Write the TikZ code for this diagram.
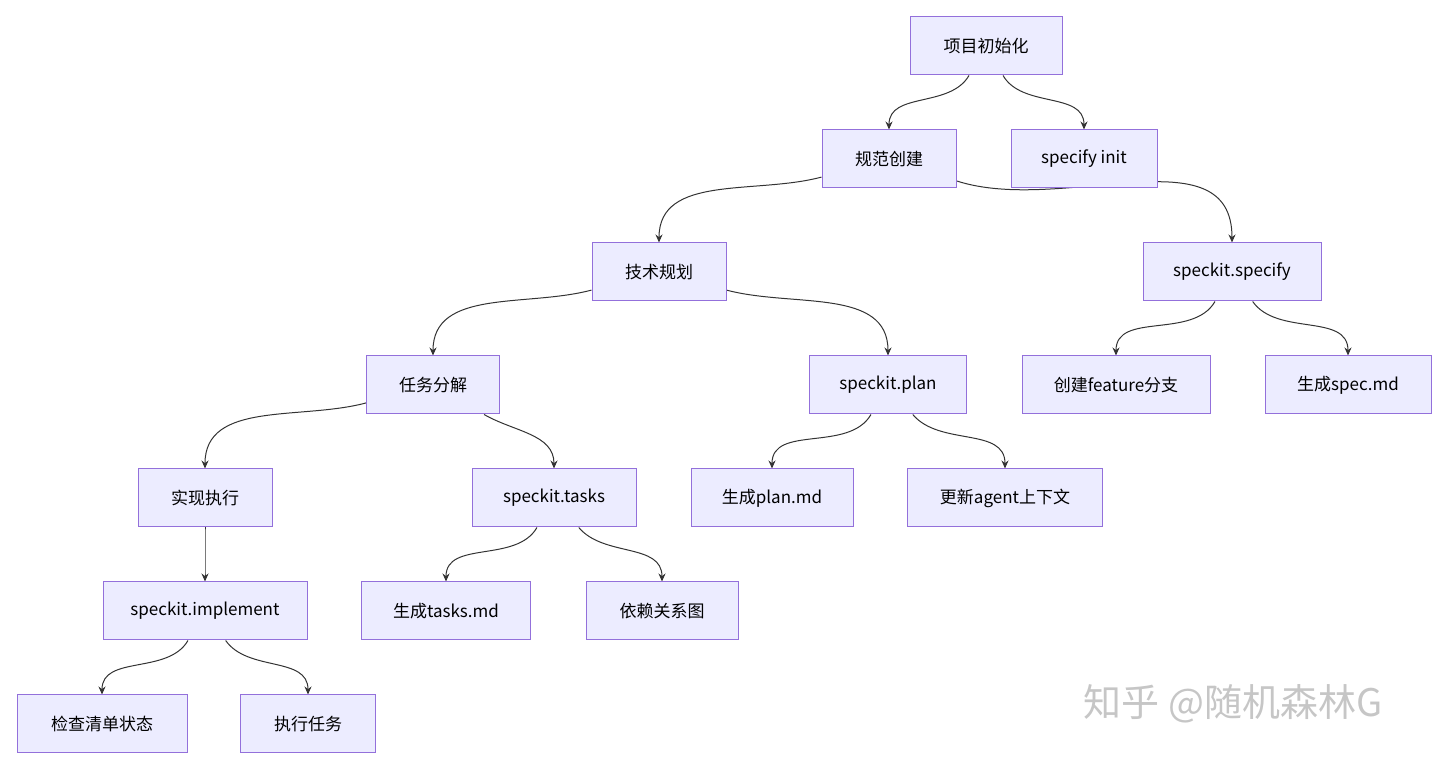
\documentclass[tikz,border=0pt]{standalone}
\usepackage{fontspec}
\setmainfont{Noto Sans CJK SC}
\usetikzlibrary{arrows.meta,backgrounds}
\definecolor{boxfill}{HTML}{ECECFF}
\definecolor{boxline}{HTML}{9370DB}
\definecolor{linecol}{HTML}{333333}
\begin{document}
\begin{tikzpicture}[x=0.5pt,y=-0.5pt]
 \tikzset{step node/.style={rectangle, draw=boxline, fill=boxfill,
 		text centered, minimum height=29pt, font=\fontsize{8.5}{10}\selectfont, line width=0.5pt}, }
 \tikzset{linea/.style={-{Stealth[length=4pt,width=3.5pt]}, draw=linecol, line width=0.5pt},}
 \useasboundingbox (0,0) rectangle (1440,763);
 \node[step node, minimum width=76pt] (init) at (986,46) {项目初始化};
 \node[step node, minimum width=67pt] (spec) at (889,159) {规范创建};
 \node[step node, minimum width=73pt] (sinit) at (1084,159) {specify init};
 \node[step node, minimum width=67pt] (plan) at (659,272) {技术规划};
 \node[step node, minimum width=89pt] (sspec) at (1232,272) {speckit.specify};
 \node[step node, minimum width=66.5pt] (tasks) at (433,385) {任务分解};
 \node[step node, minimum width=78.5pt] (splan) at (888,385) {speckit.plan};
 \node[step node, minimum width=94pt] (branch) at (1116,385) {创建feature分支};
 \node[step node, minimum width=83pt] (specmd) at (1348,385) {生成spec.md};
 \node[step node, minimum width=67pt] (impl) at (205,498) {实现执行};
 \node[step node, minimum width=82pt] (stasks) at (554,498) {speckit.tasks};
 \node[step node, minimum width=81pt] (planmd) at (772,498) {生成plan.md};
 \node[step node, minimum width=97.5pt] (agent) at (1005,498) {更新agent上下文};
 \node[step node, minimum width=102pt] (simpl) at (205,611) {speckit.implement};
 \node[step node, minimum width=84.5pt] (tasksmd) at (446,611) {生成tasks.md};
 \node[step node, minimum width=76pt] (deps) at (662,611) {依赖关系图};
 \node[step node, minimum width=85pt] (check) at (102,724) {检查清单状态};
 \node[step node, minimum width=67.5pt] (run) at (308,724) {执行任务};
 \begin{pgfonlayer}{background}
 \foreach \x/\y/\a in {init/spec/240,init/sinit/-60,spec/plan/195,spec/sspec/-18,
   plan/tasks/195,plan/splan/-15,sspec/branch/240,sspec/specmd/-55,
   tasks/impl/195,tasks/stasks/-30,splan/planmd/240,splan/agent/-50,
   impl/simpl/-90,stasks/tasksmd/240,stasks/deps/-50,simpl/check/240,simpl/run/-55}
 \path[linea] (\x) to[out=\a,in=90] (\y);
 \end{pgfonlayer}
 \node[text=gray!45, font=\fontsize{19}{22}\selectfont] (mark) at (1233,704) {知乎 @随机森林G};
\end{tikzpicture}
\end{document}
